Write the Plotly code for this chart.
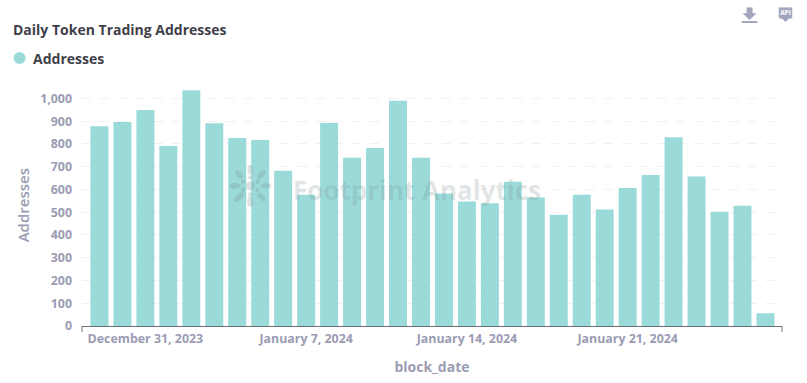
import base64
import pandas as pd
import plotly.graph_objects as go

START_DATE = "2023-12-29"
ADDRESSES = [878, 896, 949, 791, 1036, 891, 826, 817, 682, 577,
             892, 739, 782, 990, 739, 582, 547, 539, 634, 565,
             489, 577, 512, 607, 664, 830, 657, 502, 529, 56]
TICK_DATES = ["2023-12-31", "2024-01-07", "2024-01-14", "2024-01-21"]
TICK_LABELS = ["December 31, 2023", "January 7, 2024", "January 14, 2024", "January 21, 2024"]
Y_TICKS = list(range(0, 1001, 100))
Y_LABELS = [f"{v:,}" for v in Y_TICKS]
SERIES_NAME = "Addresses"

W, H = 807, 383
L, R, T, B = 81.5, 782.5, 76, 326.5
FONT = "Open Sans, Noto Sans, sans-serif"
TEAL = "#9adbda"
LABEL = "#9b9cb3"
DARK = "#3f3f4a"

dates = pd.date_range(START_DATE, periods=len(ADDRESSES), freq="D")
x0 = dates[0] - pd.Timedelta(days=0.76)
x1 = dates[0] + pd.Timedelta(days=29.72)


def px_x(p):
    return (p - L) / (R - L)


def px_y(p):
    return (B - p) / (B - T)


def svg(body, w, h):
    s = f'<svg xmlns="http://www.w3.org/2000/svg" width="{w}" height="{h}" viewBox="0 0 {w} {h}">{body}</svg>'
    return "data:image/svg+xml;base64," + base64.b64encode(s.encode()).decode()


def img(src, px, py, w, h, layer="above", opacity=1):
    return dict(source=src, xref="paper", yref="paper", xanchor="left", yanchor="top",
                x=px_x(px), y=px_y(py), sizex=w / (R - L), sizey=h / (B - T),
                sizing="stretch", layer=layer, opacity=opacity)


petals = "".join(
    f'<ellipse cx="25" cy="{y}" rx="{rx}" ry="{ry}" transform="rotate({a} 25 25)" fill="#7d8a90"/>'
    for a, y, rx, ry in [(0, 6, 3.2, 6), (45, 6, 3.2, 6.5), (90, 6, 3.2, 6.5), (135, 6, 3.2, 6.5),
                         (180, 6, 3.6, 7), (225, 6, 3.6, 7.5), (270, 6, 3.4, 8), (315, 6, 3.2, 6)]
) + '<circle cx="25" cy="25" r="5.5" fill="#7d8a90"/>' + "".join(
    f'<circle cx="25" cy="15" r="2.6" transform="rotate({a} 25 25)" fill="#7d8a90"/>'
    for a in range(0, 360, 60))
logo = svg(petals, 50, 50)
download = svg('<path d="M5 0h6v6h4l-7 7-7-7h4z M0 14h16v2H0z" fill="#a3a7bd"/>', 16, 16)
api = svg('<path d="M0 0h14v11l-4 1-3 3-3-3-4-1z" fill="#a3a7bd"/>'
          '<text x="7" y="8" font-size="6.5" font-weight="700" text-anchor="middle" fill="#fff" font-family="Open Sans">API</text>', 14, 16)

fig = go.Figure()
fig.add_bar(x=dates, y=ADDRESSES, marker=dict(color=TEAL, line_width=0), name=SERIES_NAME,
            showlegend=False, hovertemplate="%{x|%B %d, %Y}<br>%{y:,}<extra></extra>")

fig.update_layout(
    width=W, height=H, paper_bgcolor="white", plot_bgcolor="white",
    margin=dict(l=L, r=W - R, t=T, b=H - B, pad=0, autoexpand=False),
    bargap=0.217, showlegend=False,
    title=dict(text="Daily Token Trading Addresses", x=13 / W, xanchor="left", xref="container",
               y=1 - 30 / H, yanchor="middle", yref="container",
               font=dict(family=FONT, size=14, color=DARK, weight=700)),
    xaxis=dict(type="date", range=[x0, x1], tickvals=TICK_DATES, ticktext=TICK_LABELS,
               ticks="", showgrid=False, showline=True, linecolor="#6e7079", linewidth=1,
               zeroline=False, ticklabelstandoff=1,
               tickfont=dict(family=FONT, size=12.4, color=LABEL, weight=700),
               title=dict(text="block_date", standoff=16,
                          font=dict(family=FONT, size=14, color=LABEL, weight=700))),
    yaxis=dict(range=[0, (B - T) / 0.228], tickvals=Y_TICKS, ticktext=Y_LABELS, ticks="",
               showline=False, zeroline=False, showgrid=True, gridcolor="#f1f1f4", griddash="dash",
               gridwidth=1, tickfont=dict(family=FONT, size=12.4, color=LABEL, weight=700),
               ticklabelstandoff=9),
    images=[img(logo, 229, 165, 42, 42, opacity=0.24),
            img(download, 742, 7, 16, 16),
            img(api, 779, 7, 14, 16)],
    annotations=[
        dict(text="Footprint Analytics", xref="paper", yref="paper", showarrow=False,
             x=px_x(417), y=px_y(190), xanchor="center", yanchor="middle",
             font=dict(family=FONT, size=26, color="rgba(125,138,144,0.22)", weight=700)),
        dict(text=SERIES_NAME, xref="paper", yref="paper", showarrow=False, xanchor="left",
             yanchor="middle", x=px_x(30), y=px_y(58),
             font=dict(family=FONT, size=14, color=DARK, weight=700)),
        dict(text="Addresses", xref="paper", yref="paper", showarrow=False, textangle=-90,
             xanchor="center", yanchor="middle", x=px_x(22), y=px_y(206),
             font=dict(family=FONT, size=15, color=LABEL, weight=600)),
    ],
    shapes=[dict(type="line", xref="paper", yref="paper", x0=v, x1=v, y0=0, y1=-6 / (B - T),
                 line=dict(color="#6e7079", width=1)) for v in (0, 1)]
    + [dict(type="circle", xref="paper", yref="paper", fillcolor=TEAL, line_width=0,
            x0=px_x(13), x1=px_x(25), y0=px_y(64), y1=px_y(52))],
)
fig.write_html("out.html", config=dict(displayModeBar=False),
               post_script="document.body.style.margin='0';document.documentElement.style.overflow='hidden';")
